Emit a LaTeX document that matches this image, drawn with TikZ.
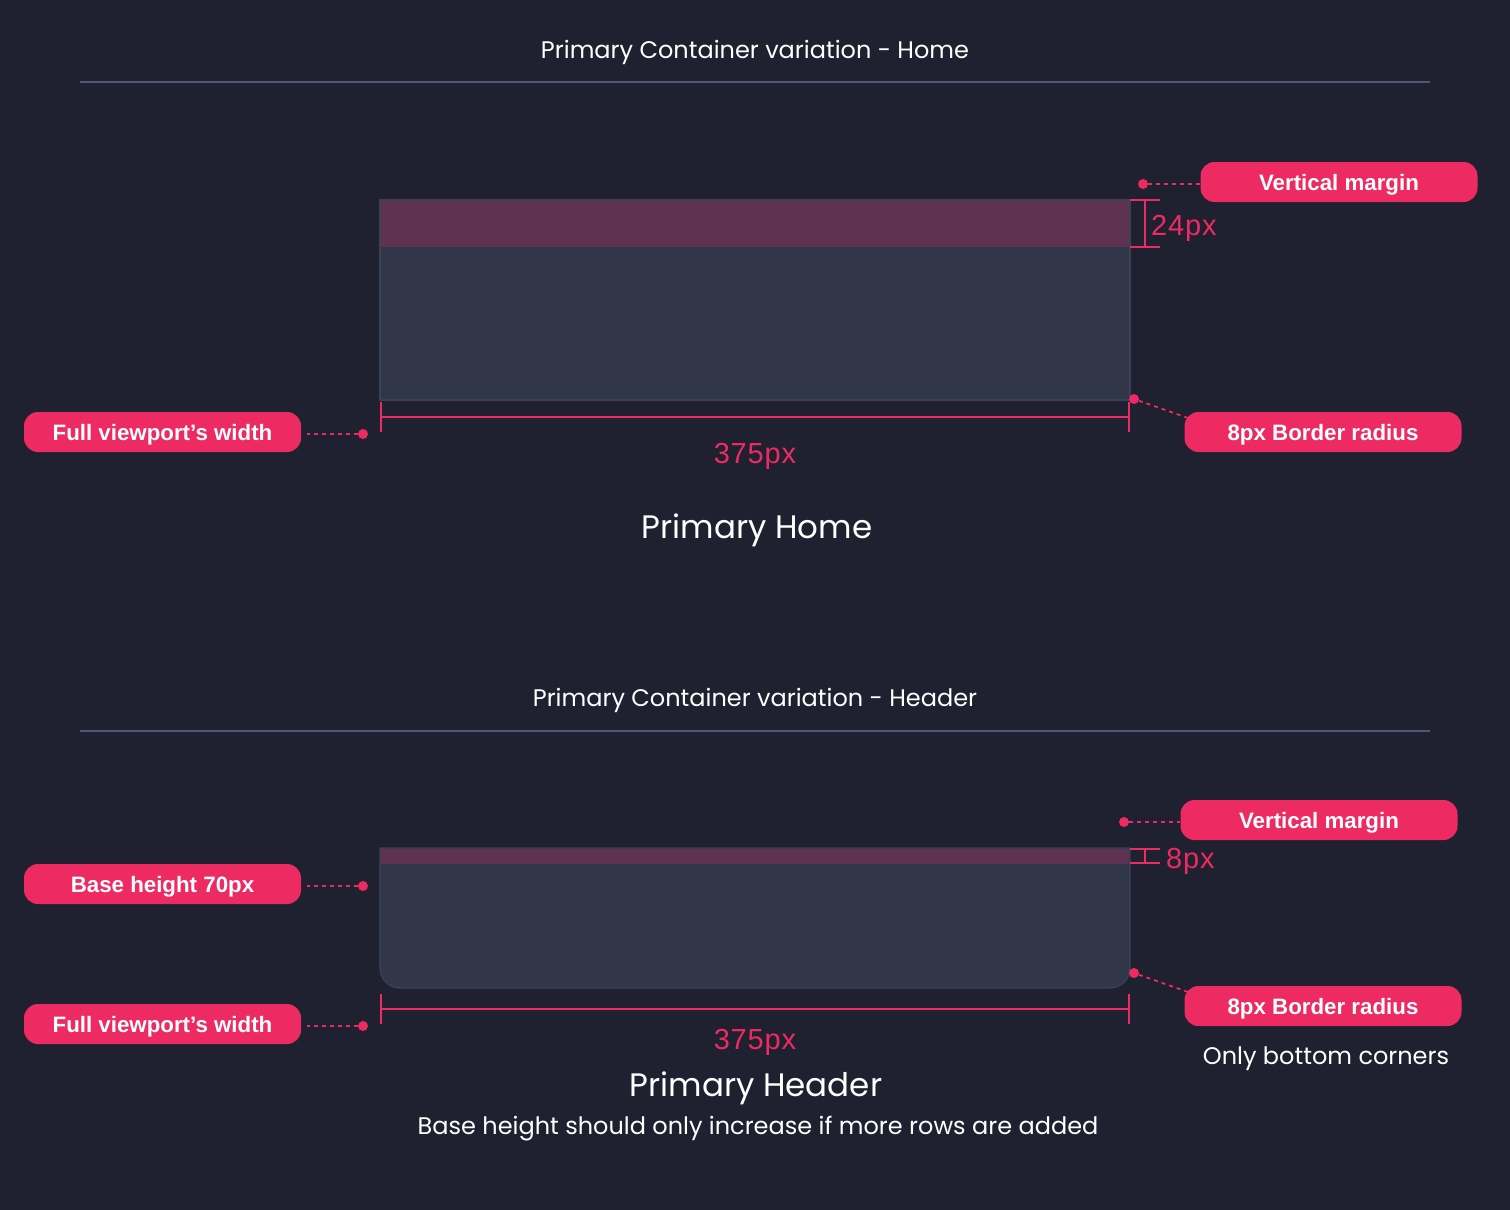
\documentclass[tikz,border=0pt]{standalone}
\usepackage{fontspec}
\setmainfont{Poppins}
\newfontfamily\pillfont{Liberation Sans}
\newfontfamily\dimfont[LetterSpace=3]{Liberation Sans}
\usetikzlibrary{positioning,calc}
\definecolor{bg}{HTML}{1F2030}
\definecolor{boxfill}{HTML}{313649}
\definecolor{boxline}{HTML}{3B4257}
\definecolor{band}{HTML}{5E3250}
\definecolor{pink}{HTML}{EE2A62}
\definecolor{rule}{HTML}{4E5878}
\tikzset{
  pill/.style={fill=pink, rounded corners=14pt, minimum width=277pt, minimum height=40pt, inner sep=0pt,
    text height=16pt, text depth=0pt,
    text=white, font=\pillfont\bfseries\fontsize{22.3}{24}\selectfont},
  dotnode/.style={circle, fill=pink, inner sep=0pt, minimum size=10pt},
  leader/.style={pink, line width=1.8pt, dash pattern=on 4pt off 4pt},
  dimline/.style={pink, line width=2pt},
  dimtext/.style={text=pink, font=\dimfont\fontsize{29}{31}\selectfont, inner sep=0pt, text height=21pt, text depth=0pt},
  titletext/.style={text=white, font=\fontsize{24}{28}\selectfont, inner sep=0pt, text height=17pt, text depth=0pt},
  bigtitle/.style={text=white, font=\fontsize{32.5}{36}\selectfont, inner sep=0pt, text height=23pt, text depth=0pt},
  hrule/.style={rule, line width=1.5pt},
}
\begin{document}
\begin{tikzpicture}[x=1pt,y=-1pt]
\fill[bg] (0,0) rectangle (1510,1210);
\useasboundingbox (0,0) rectangle (1510,1210);

% ---------- Section 1 ----------
\node[titletext] (t1) at (755,50) {Primary Container variation - Home};
\coordinate (r1a) at (80,82); \coordinate (r1b) at (1430,82);
\draw[hrule] (r1a) -- (r1b);

\draw[boxline, fill=boxfill, line width=1.2pt] (380,200) rectangle (1130,400);
\fill[band] (380.6,200.6) rectangle (1129.4,247);
\node[inner sep=0pt, minimum width=750pt, minimum height=200pt] (box1) at (755,300) {};

% vertical dimension
\coordinate (v1t) at (1145,200); \coordinate (v1b) at (1145,247);
\draw[dimline] (1130,200) -- (1160,200);
\draw[dimline] (1130,247) -- (1160,247);
\draw[dimline] (v1t) -- (v1b);
\node[dimtext, anchor=west] (d24) at (1151,225) {24px};

\node[pill] (vm1) at (1339,182) {Vertical margin};
\node[dotnode] (vm1d) at (1143,184) {};
\draw[leader] (vm1d) -- (vm1d -| vm1.west);

% horizontal dimension
\coordinate (h1l) at (381,417); \coordinate (h1r) at (1129,417);
\draw[dimline] (381,402) -- (381,432);
\draw[dimline] (1129,402) -- (1129,432);
\draw[dimline] (h1l) -- (h1r);
\node[dimtext] (d375a) at (755,453) {375px};

\node[pill] (fw1) at (162.5,432) {Full viewport’s width};
\node[dotnode] (fw1d) at (363,434) {};
\draw[leader] (fw1d) -- ($(fw1d -| fw1.east)+(6,0)$);

\node[pill] (br1) at (1323,432) {8px Border radius};
\node[dotnode] (br1d) at (1134,399) {};
\draw[leader] (br1d) -- (1188,418);

\node[bigtitle] (ph) at (757,527) {Primary Home};

% ---------- Section 2 ----------
\node[titletext] (t2) at (755,698) {Primary Container variation - Header};
\coordinate (r2a) at (80,731); \coordinate (r2b) at (1430,731);
\draw[hrule] (r2a) -- (r2b);

\draw[boxline, fill=boxfill, line width=1.2pt]
  (380,848) -- (1130,848) -- (1130,968) arc[start angle=0, end angle=-90, radius=20pt]
  -- (400,988) arc[start angle=-90, end angle=-180, radius=20pt] -- cycle;
\fill[band] (380.6,848.6) rectangle (1129.4,864);
\node[inner sep=0pt, minimum width=750pt, minimum height=140pt] (box2) at (755,918) {};

% vertical dimension
\coordinate (v2t) at (1145,848); \coordinate (v2b) at (1145,863);
\draw[dimline] (1130,849) -- (1160,849);
\draw[dimline] (1130,863) -- (1160,863);
\draw[dimline] (v2t) -- (v2b);
\node[dimtext, anchor=west] (d8) at (1166,858) {8px};

\node[pill] (vm2) at (1319,820) {Vertical margin};
\node[dotnode] (vm2d) at (1124,822) {};
\draw[leader] (vm2d) -- (vm2d -| vm2.west);

\node[pill] (bh) at (162.5,884) {Base height 70px};
\node[dotnode] (bhd) at (363,886) {};
\draw[leader] (bhd) -- ($(bhd -| bh.east)+(6,0)$);

% horizontal dimension
\coordinate (h2l) at (381,1009); \coordinate (h2r) at (1129,1009);
\draw[dimline] (381,994) -- (381,1024);
\draw[dimline] (1129,994) -- (1129,1024);
\draw[dimline] (h2l) -- (h2r);
\node[dimtext] (d375b) at (755,1039) {375px};

\node[pill] (fw2) at (162.5,1024) {Full viewport’s width};
\node[dotnode] (fw2d) at (363,1026) {};
\draw[leader] (fw2d) -- ($(fw2d -| fw2.east)+(6,0)$);

\node[pill] (br2) at (1323,1006) {8px Border radius};
\node[dotnode] (br2d) at (1134,973) {};
\draw[leader] (br2d) -- (1188,992);
\node[titletext] (obc) at (1326,1056) {Only bottom corners};

\node[bigtitle] (phd) at (756,1085) {Primary Header};
\node[titletext] (bhs) at (758,1126) {Base height should only increase if more rows are added};
\end{tikzpicture}
\end{document}
